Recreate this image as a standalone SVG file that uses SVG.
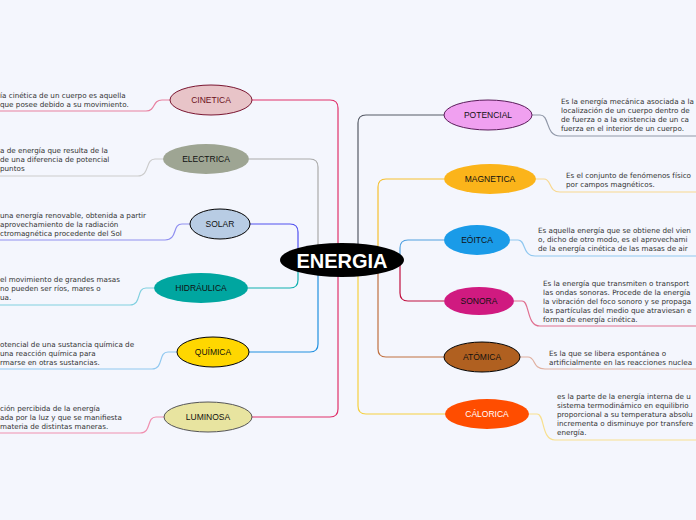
<svg xmlns="http://www.w3.org/2000/svg" width="696" height="520" viewBox="0 0 696 520">
<style>
.d{font-family:"DejaVu Sans",Verdana,sans-serif;font-size:7.2px;fill:#333}
.n{font-family:"Liberation Sans",Arial,sans-serif;font-size:8.5px;text-anchor:middle;dominant-baseline:central;fill:#111}
.c{fill:none;stroke-width:1.2}
</style>
<rect width="696" height="520" fill="#f4f6fd"/>
<g id="connectors">
<path class="c" stroke="#e0306a" d="M252,100 H330 Q338,100 338,108 V250 Q338,258 330,258"/>
<path class="c" stroke="#aaaaaa" d="M249,159 H310 Q318,159 318,167 V252"/>
<path class="c" stroke="#5050f0" d="M250,224 H290 Q298,224 298,232 V255"/>
<path class="c" stroke="#10b0b0" d="M248,288 H290 Q298,288 298,280 V265"/>
<path class="c" stroke="#2090e0" d="M249,352 H310 Q318,352 318,344 V268"/>
<path class="c" stroke="#e0306a" d="M252,417 H330 Q338,417 338,409 V270"/>
<path class="c" stroke="#555a66" d="M444,115 H366 Q358,115 358,123 V250"/>
<path class="c" stroke="#f5c030" d="M444,179 H386 Q378,179 378,187 V252"/>
<path class="c" stroke="#50a0e0" d="M444,240 H408 Q400,240 400,248 V256"/>
<path class="c" stroke="#c01040" d="M444,301 H408 Q400,301 400,293 V264"/>
<path class="c" stroke="#c07040" d="M444,357 H386 Q378,357 378,349 V268"/>
<path class="c" stroke="#f5d040" d="M445,414 H366 Q358,414 358,406 V270"/>
<path class="c" stroke="#e880a0" d="M170,100 H162 C152,100 156,111 146,111 H0"/>
<path class="c" stroke="#cccccc" d="M163,159 H155 C145,159 150,176 138,176 H0"/>
<path class="c" stroke="#9090f0" d="M190,224 H182 C172,224 178,240 165,240 H0"/>
<path class="c" stroke="#80d0e0" d="M154,288 H146 C136,288 142,305 130,305 H0"/>
<path class="c" stroke="#90c8f0" d="M177,352 H168 C158,352 164,369 152,369 H0"/>
<path class="c" stroke="#f090b0" d="M164,417 H156 C146,417 152,433 140,433 H0"/>
<path class="c" stroke="#9098a8" d="M532,115 H540 C550,115 545,136 560,136 H696"/>
<path class="c" stroke="#f8d890" d="M536,179 H544 C552,179 548,192 560,192 H696"/>
<path class="c" stroke="#90c8f0" d="M510,240 H518 C526,240 522,256 535,256 H696"/>
<path class="c" stroke="#e07090" d="M514,301 H522 C530,301 526,326 540,326 H696"/>
<path class="c" stroke="#e0b0a0" d="M520,357 H528 C536,357 532,369 545,369 H696"/>
<path class="c" stroke="#f8e090" d="M529,414 H537 C545,414 541,440 555,440 H696"/>
</g>
<g id="energia"><ellipse cx="342" cy="260" rx="62" ry="17" fill="#000"/><text x="342" y="261" class="n" style="font-size:20px;font-weight:bold;fill:#fff">ENERGIA</text></g>
<g id="cinetica"><ellipse cx="211" cy="100" rx="41" ry="15" fill="#e8c4c8" stroke="#7a1530"/><text x="211" y="100" class="n" style="fill:#6b1020">CINETICA</text>
<text class="d" x="0" y="98">ía cinética de un cuerpo es aquella</text><text class="d" x="0" y="107">que posee debido a su movimiento.</text></g>
<g id="electrica"><ellipse cx="206" cy="159" rx="43" ry="15" fill="#9ea593"/><text x="206" y="159" class="n">ELECTRICA</text>
<text class="d" x="0" y="153">a de energía que resulta de la</text><text class="d" x="0" y="162">de una diferencia de potencial</text><text class="d" x="0" y="171">puntos</text></g>
<g id="solar"><ellipse cx="220" cy="224" rx="30" ry="15" fill="#b8cce4" stroke="#000"/><text x="220" y="224" class="n">SOLAR</text>
<text class="d" x="0" y="218">una energía renovable, obtenida a partir</text><text class="d" x="0" y="227">aprovechamiento de la radiación</text><text class="d" x="0" y="236">ctromagnética procedente del Sol</text></g>
<g id="hidraulica"><ellipse cx="201" cy="288" rx="47" ry="15" fill="#00a6a0"/><text x="201" y="288" class="n">HIDRÁULICA</text>
<text class="d" x="0" y="282">el movimiento de grandes masas</text><text class="d" x="0" y="291">no pueden ser ríos, mares o</text><text class="d" x="0" y="300">ua.</text></g>
<g id="quimica"><ellipse cx="213" cy="352" rx="36" ry="15" fill="#ffd700" stroke="#000"/><text x="213" y="352" class="n">QUÍMICA</text>
<text class="d" x="0" y="347">otencial de una sustancia química de</text><text class="d" x="0" y="356">una reacción química para</text><text class="d" x="0" y="365">rmarse en otras sustancias.</text></g>
<g id="luminosa"><ellipse cx="208" cy="417" rx="44" ry="15" fill="#e8e4a0" stroke="#555"/><text x="208" y="417" class="n">LUMINOSA</text>
<text class="d" x="0" y="411">ción percibida de la energía</text><text class="d" x="0" y="420">ada por la luz y que se manifiesta</text><text class="d" x="0" y="429">materia de distintas maneras.</text></g>
<g id="potencial"><ellipse cx="488" cy="115" rx="44" ry="15" fill="#f0a0f0" stroke="#5a1a5a"/><text x="488" y="115" class="n">POTENCIAL</text>
<text class="d" x="561" y="104">Es la energía mecánica asociada a la</text><text class="d" x="561" y="113">localización de un cuerpo dentro de</text><text class="d" x="561" y="122">de fuerza o a la existencia de un ca</text><text class="d" x="561" y="131">fuerza en el interior de un cuerpo.</text></g>
<g id="magnetica"><ellipse cx="490" cy="179" rx="46" ry="15" fill="#fbb41a"/><text x="490" y="179" class="n">MAGNETICA</text>
<text class="d" x="566" y="178">Es el conjunto de fenómenos físico</text><text class="d" x="566" y="187">por campos magnéticos.</text></g>
<g id="eoitca"><ellipse cx="477" cy="240" rx="33" ry="15" fill="#1a9be8"/><text x="477" y="240" class="n">EÓITCA</text>
<text class="d" x="538" y="233">Es aquella energía que se obtiene del vien</text><text class="d" x="538" y="242">o, dicho de otro modo, es el aprovechami</text><text class="d" x="538" y="251">de la energía cinética de las masas de air</text></g>
<g id="sonora"><ellipse cx="479" cy="301" rx="35" ry="14" fill="#d01a80"/><text x="479" y="301" class="n">SONORA</text>
<text class="d" x="543" y="286">Es la energía que transmiten o transport</text><text class="d" x="543" y="295">las ondas sonoras. Procede de la energía</text><text class="d" x="543" y="304">la vibración del foco sonoro y se propaga</text><text class="d" x="543" y="313">las partículas del medio que atraviesan e</text><text class="d" x="543" y="322">forma de energía cinética.</text></g>
<g id="atomica"><ellipse cx="482" cy="357" rx="38" ry="15" fill="#b06020" stroke="#000"/><text x="482" y="357" class="n">ATÓMICA</text>
<text class="d" x="549" y="356">Es la que se libera espontánea o</text><text class="d" x="549" y="365">artificialmente en las reacciones nuclea</text></g>
<g id="calorica"><ellipse cx="487" cy="414" rx="42" ry="15" fill="#ff4d00"/><text x="487" y="414" class="n" style="fill:#fff">CÁLORICA</text>
<text class="d" x="557" y="399">es la parte de la energía interna de u</text><text class="d" x="557" y="408">sistema termodinámico en equilibrio</text><text class="d" x="557" y="417">proporcional a su temperatura absolu</text><text class="d" x="557" y="426">incrementa o disminuye por transfere</text><text class="d" x="557" y="435">energía.</text></g>
</svg>
